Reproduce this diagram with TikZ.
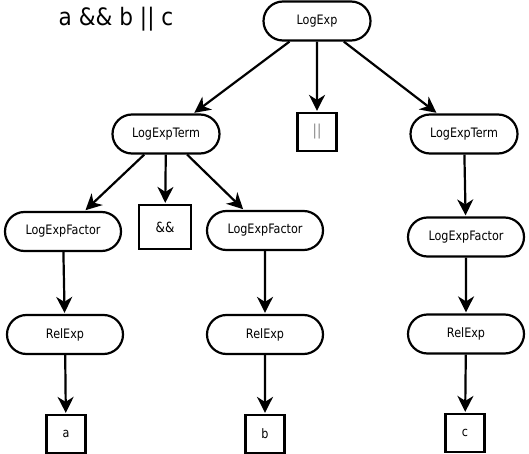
\documentclass[tikz,border=0pt]{standalone}
\usepackage{fontspec}
\usepackage{tikz}
\usetikzlibrary{shapes, shapes.misc, arrows.meta, positioning}
\newfontfamily\nodefont[FakeStretch=0.86]{DejaVu Sans}
\newfontfamily\titlefont[FakeStretch=0.9]{DejaVu Sans}
\definecolor{opgray}{RGB}{136,136,136}
\tikzstyle{nonterm} = [rounded rectangle, minimum width=113pt, minimum height=39pt, inner xsep=3pt, text centered, draw=black, line width=2.2pt, font=\nodefont\fontsize{13}{15}\selectfont]
\tikzstyle{wide} = [nonterm, minimum width=122pt]
\tikzstyle{leaf} = [rectangle, minimum width=39pt, minimum height=38pt, text centered, draw=black, line width=2.2pt, font=\nodefont\fontsize{13}{15}\selectfont]
\tikzstyle{title} = [rectangle, font=\titlefont\fontsize{24}{28}\selectfont]

\begin{document}
\begin{tikzpicture}[node distance=100pt]
\useasboundingbox (0pt,0pt) rectangle (529pt,-454pt);
\node (logexp) [nonterm] at (317pt,-21pt) {LogExp};
\node (expr) [title, left of=logexp, xshift=-101pt, yshift=1.5pt] {a \&\& b || c};
\node (orop) [leaf, below of=logexp, yshift=-11pt, text=opgray, font=\nodefont\fontsize{15}{18}\selectfont] {||};
\node (term1) [nonterm, below of=logexp, xshift=-151pt, yshift=-13pt] {LogExpTerm};
\node (term2) [nonterm, below of=logexp, xshift=147pt, yshift=-13pt] {LogExpTerm};
\node (factor1) [wide, below of=term1, xshift=-103pt, yshift=2.5pt] {LogExpFactor};
\node (andop) [leaf, minimum width=52pt, minimum height=44pt, below of=term1, xshift=-1pt, yshift=7pt, font=\nodefont\fontsize{14}{17}\selectfont] {\&\&};
\node (factor2) [wide, below of=term1, xshift=99pt, yshift=3.5pt] {LogExpFactor};
\node (factor3) [wide, below of=term2, xshift=2pt, yshift=-3pt] {LogExpFactor};
\node (rel1) [wide, below of=factor1, xshift=2pt, yshift=-3pt] {RelExp};
\node (rel2) [wide, below of=factor2, yshift=-4pt] {RelExp};
\node (rel3) [wide, below of=factor3, yshift=3pt] {RelExp};
\node (ida) [leaf, below of=rel1, xshift=1pt, yshift=0.5pt] {a};
\node (idb) [leaf, below of=rel2, yshift=0.5pt] {b};
\node (idc) [leaf, below of=rel3, xshift=-1pt, yshift=1pt] {c};
\draw [line width=2.2pt, shorten >=1pt, -{Stealth[length=16pt, width=16pt, inset=5pt]}] (logexp) -- (term1);
\draw [line width=2.2pt, shorten >=1pt, -{Stealth[length=16pt, width=16pt, inset=5pt]}] (logexp) -- (orop);
\draw [line width=2.2pt, shorten >=1pt, -{Stealth[length=16pt, width=16pt, inset=5pt]}] (logexp) -- (term2);
\draw [line width=2.2pt, shorten >=1pt, -{Stealth[length=16pt, width=16pt, inset=5pt]}] (term1) -- (factor1);
\draw [line width=2.2pt, shorten >=1pt, -{Stealth[length=16pt, width=16pt, inset=5pt]}] (term1) -- (andop);
\draw [line width=2.2pt, shorten >=1pt, -{Stealth[length=16pt, width=16pt, inset=5pt]}] (term1) -- (factor2);
\draw [line width=2.2pt, shorten >=1pt, -{Stealth[length=16pt, width=16pt, inset=5pt]}] (term2) -- (factor3);
\draw [line width=2.2pt, shorten >=1pt, -{Stealth[length=16pt, width=16pt, inset=5pt]}] (factor1) -- (rel1);
\draw [line width=2.2pt, shorten >=1pt, -{Stealth[length=16pt, width=16pt, inset=5pt]}] (factor2) -- (rel2);
\draw [line width=2.2pt, shorten >=1pt, -{Stealth[length=16pt, width=16pt, inset=5pt]}] (factor3) -- (rel3);
\draw [line width=2.2pt, shorten >=1pt, -{Stealth[length=16pt, width=16pt, inset=5pt]}] (rel1) -- (ida);
\draw [line width=2.2pt, shorten >=1pt, -{Stealth[length=16pt, width=16pt, inset=5pt]}] (rel2) -- (idb);
\draw [line width=2.2pt, shorten >=1pt, -{Stealth[length=16pt, width=16pt, inset=5pt]}] (rel3) -- (idc);
\end{tikzpicture}
\end{document}
